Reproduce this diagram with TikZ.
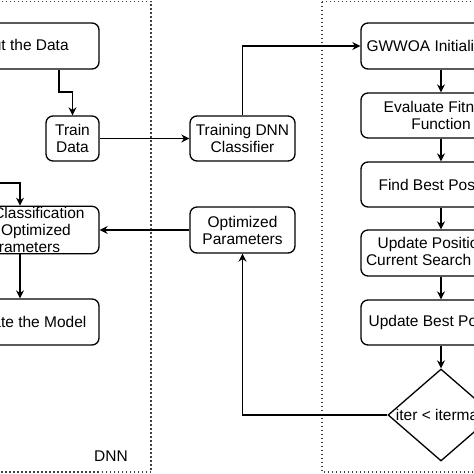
\documentclass[tikz,border=0pt]{standalone}
\usepackage{fontspec}
\setmainfont{Liberation Sans}
\usetikzlibrary{arrows.meta,shapes.geometric}
\begin{document}
\begin{tikzpicture}[x=1pt,y=-1pt,
  box/.style={draw=black,line width=1.3pt,rounded corners=7pt,align=center,
    font=\fontsize{15.5}{17}\selectfont,inner sep=1pt,text=black},
  dia/.style={draw=black,line width=1.3pt,diamond,aspect=1.15,minimum width=106pt,minimum height=92pt,inner sep=0pt,
    font=\fontsize{15.5}{17}\selectfont,text=black},
  arr/.style={draw=black,line width=1.3pt,-{Stealth[length=8pt,width=8pt]}},
  cont/.style={draw=black!75,line width=1.4pt,dash pattern=on 1.4pt off 2.6pt},
  lbl/.style={font=\fontsize{15.5}{17}\selectfont,text=black}]
\useasboundingbox (0,0) rectangle (474,474);
\clip (0,0) rectangle (474,474);
% containers
\draw[cont] (-20,1.5) rectangle (151,472);
\draw[cont] (322,1.5) rectangle (500,472);
\node[lbl] (dnnlbl) at (111,456) {DNN};
% left column
\node[box,minimum width=158pt,minimum height=46pt] (input) at (20,46) {Input the Data};
\node[box,minimum width=53pt,minimum height=45pt] (train) at (72.5,138.5) {Train\\Data};
\node[box,minimum width=158pt,minimum height=46pt] (cls) at (20,230) {DNN Classification\\with Optimized\\Parameters};
\node[box,minimum width=158pt,minimum height=46pt] (evm) at (20,322) {Evaluate the Model};
% middle column
\node[box,minimum width=105pt,minimum height=45pt] (tdnn) at (242.5,138.5) {Training DNN\\Classifier};
\node[box,minimum width=105pt,minimum height=46pt] (opt) at (242.5,230) {Optimized\\Parameters};
% right column
\node[box,minimum width=160pt,minimum height=46pt] (gw) at (441,46) {GWWOA Initialization};
\node[box,minimum width=160pt,minimum height=45pt] (eval) at (441,115.5) {Evaluate Fitness\\Function};
\node[box,minimum width=160pt,minimum height=45pt] (find) at (441,184.5) {Find Best Position};
\node[box,minimum width=160pt,minimum height=46pt] (upd) at (441,253) {Update Position of\\Current Search Agent};
\node[box,minimum width=160pt,minimum height=45pt] (ubest) at (441,322.5) {Update Best Position};
\node[dia] (cond) at (441,415) {iter < itermax};
\coordinate (testin) at (-10,183);
% connectors
\draw[arr] ([xshift=39pt]input.south) |- (72.5,92) -- (train.north);
\draw[arr] (train.east) -- (tdnn.west);
\draw[arr] (tdnn.north) |- (gw.west);
\draw[arr] (gw.south) -- (eval.north);
\draw[arr] (eval.south) -- (find.north);
\draw[arr] (find.south) -- (upd.north);
\draw[arr] (upd.south) -- (ubest.north);
\draw[arr] (ubest.south) -- (cond.north);
\draw[arr] (cond.west) -| (opt.south);
\draw[arr] (opt.west) -- (cls.east);
\draw[arr] (testin) -| (cls.north);
\draw[arr] (cls.south) -- (evm.north);
\end{tikzpicture}
\end{document}
